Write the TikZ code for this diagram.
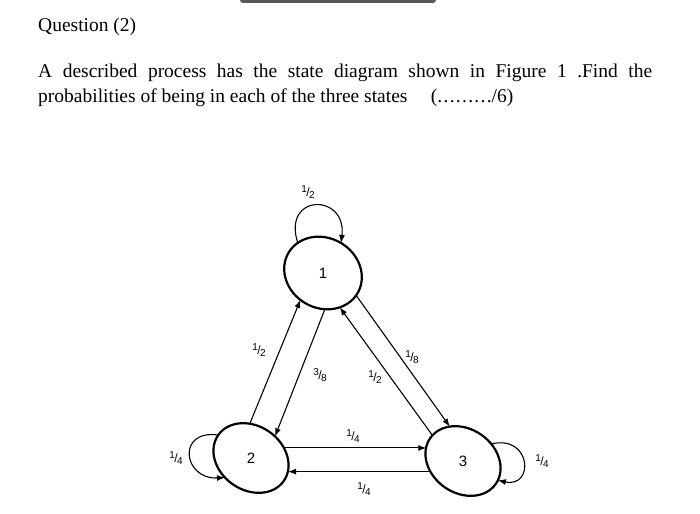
\documentclass[tikz,border=0pt]{standalone}
\usepackage{fontspec}
\setmainfont{Liberation Serif}
\newfontfamily\lblfont{Liberation Sans}
\usetikzlibrary{shapes.geometric,arrows.meta}
\newcommand{\fr}[2]{\raisebox{3.5pt}{\fontsize{10}{10}\selectfont #1}\kern-0.6pt{\fontsize{12}{12}\selectfont/}\kern-0.6pt\raisebox{-2pt}{\fontsize{10}{10}\selectfont #2}}
\newcommand{\dt}{.\kern1.3pt}
\begin{document}
\begin{tikzpicture}[x=1pt,y=-1pt,
  state/.style={ellipse, draw, line width=2.2pt, inner sep=0pt, outer sep=0pt,
    font=\lblfont\fontsize{15}{15}\selectfont},
  edge/.style={line width=1.1pt, -{Latex[length=8pt,width=6pt]}},
  lbl/.style={font=\lblfont, inner sep=0pt}]
\useasboundingbox (0,0) rectangle (700,513);
\fill[black!65, rounded corners=3pt] (240,-6) rectangle (436,3);
% text
\node[anchor=base west, inner sep=0pt, font=\fontsize{19.5}{19.5}\selectfont] (q) at (38,32) {Question (2)};
\node[anchor=base west, inner sep=0pt, text width=614pt, align=justify,
  font=\fontsize{19.5}{25}\selectfont] (p) at (38,78)
  {A described process has the state diagram shown in Figure 1 .Find the\linebreak probabilities of being in each of the three states\hspace{1.2em}(\dt\dt\dt\dt\dt\dt\dt\dt./6)};
% states
\node[state, minimum width=80pt, minimum height=70pt, rotate=-30] (n1) at (323,273) {\rotatebox{30}{1}};
\node[state, minimum width=80pt, minimum height=64pt, rotate=-35] (n2) at (251,458) {\rotatebox{35}{2}};
\node[state, minimum width=80pt, minimum height=64pt, rotate=-35] (n3) at (463,461) {\rotatebox{35}{3}};
% edges
\draw[edge] (n2.127) -- (n1.260);
\draw[edge] (n1.303) -- (n2.77);
\draw[edge] (n3.175) -- (n1.326);
\draw[edge] (n1.356) -- (n3.146);
\draw[edge] (n2.52) -- (n2.52 -| n3.194);
\draw[edge] (n3.233) -- (n3.233 -| n2.16);
% loops
\draw[edge] (n1.160) .. controls +(-16,-50) and +(6,-50) .. (n1.89);
\draw[edge] (n2.180) .. controls +(-42,-6) and +(-42,2) .. (n2.252);
\draw[edge] (n3.66) .. controls +(40,-10) and +(37,8) .. (n3.6);
% labels
\node[lbl] (l11) at (308,192) {\fr12};
\node[lbl] (l21) at (259,350) {\fr12};
\node[lbl] (l12) at (320,375) {\fr38};
\node[lbl] (l31) at (375,377) {\fr12};
\node[lbl] (l13) at (412,357) {\fr18};
\node[lbl] (l23) at (353,436) {\fr14};
\node[lbl] (l32) at (364,489) {\fr14};
\node[lbl] (l22) at (176,458) {\fr14};
\node[lbl] (l33) at (542,461) {\fr14};
\end{tikzpicture}
\end{document}
